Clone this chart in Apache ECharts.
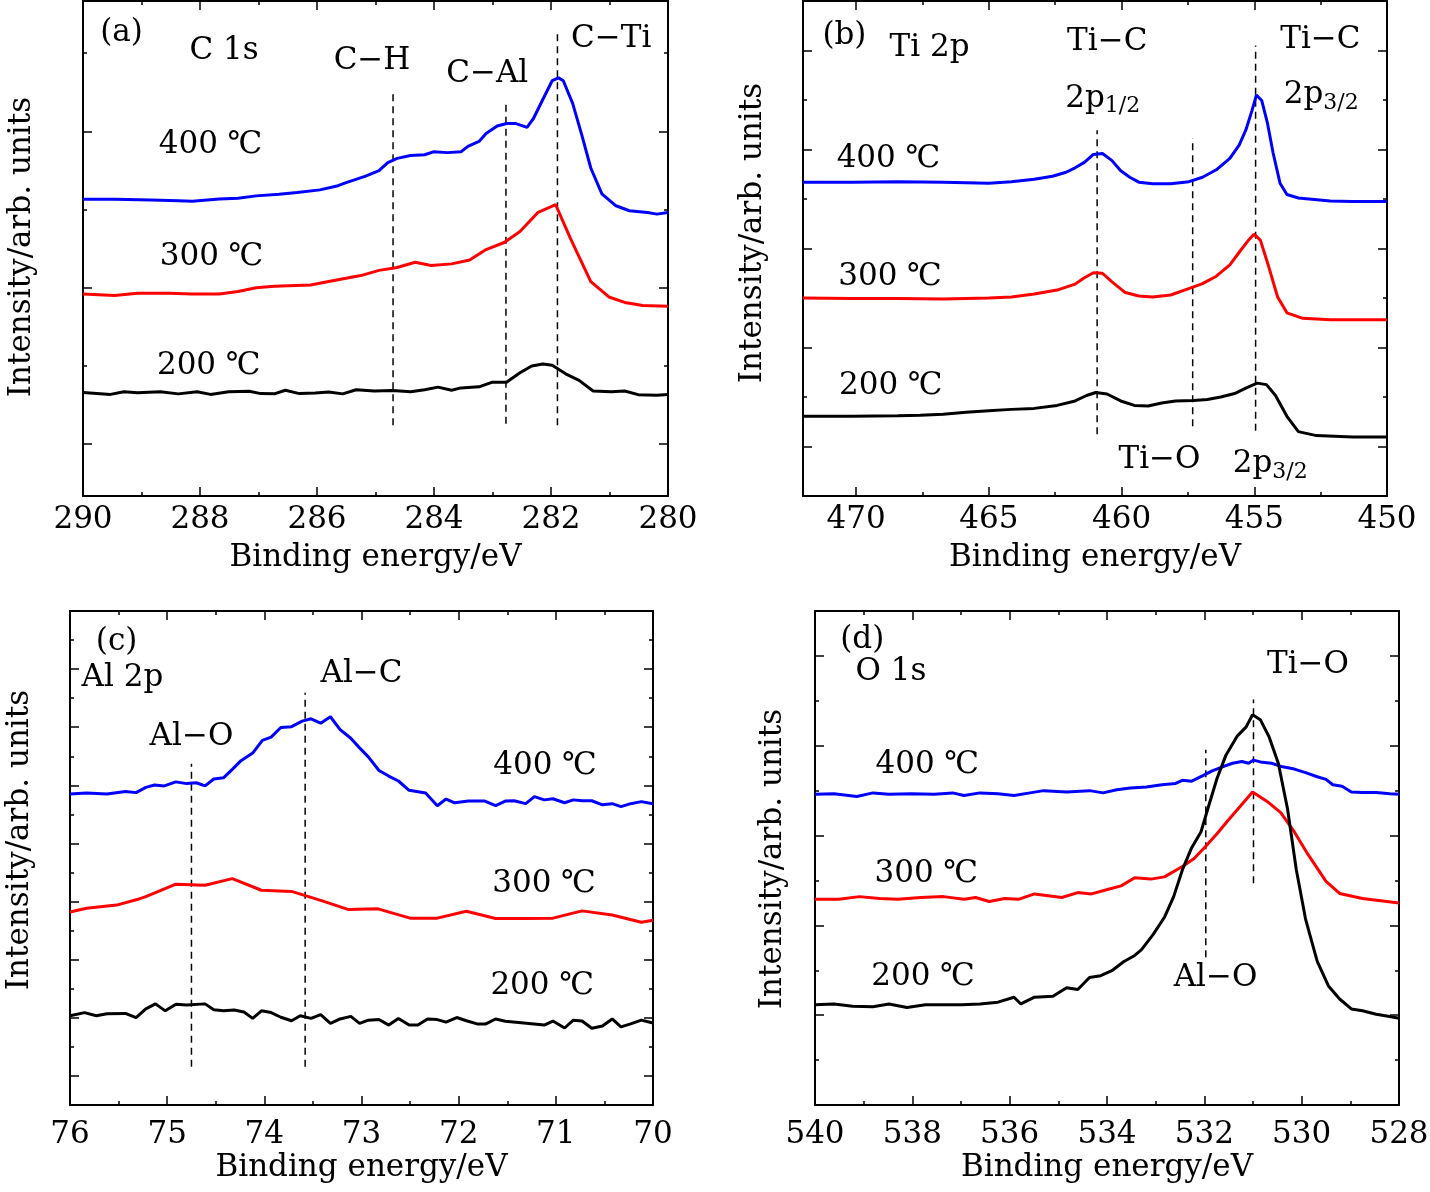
<!DOCTYPE html>
<html>
<head>
<meta charset="utf-8">
<title>XPS spectra</title>
<script src="https://cdn.jsdelivr.net/npm/echarts@6/dist/echarts.min.js"></script>
<style>
  html, body { margin: 0; padding: 0; background: #fff; }
  #chart { width: 1430px; height: 1192px; }
</style>
</head>
<body>
<div id="chart"></div>
<script>
// x = binding energy (eV), y = intensity (arb. units, own scale per panel)

// (a) C 1s
const a400 = [[290.00,11.39],[289.46,11.39],[288.83,11.36],[288.37,11.33],[288.13,11.31],[287.67,11.40],[287.35,11.43],[287.04,11.52],[286.65,11.58],[286.34,11.65],[285.95,11.75],[285.64,11.91],[285.49,12.04],[285.18,12.27],[284.94,12.49],[284.79,12.80],[284.63,12.96],[284.40,13.07],[284.16,13.10],[284.01,13.21],[283.77,13.18],[283.54,13.21],[283.42,13.42],[283.23,13.61],[283.11,13.91],[282.92,14.20],[282.76,14.30],[282.61,14.30],[282.41,14.15],[282.30,14.49],[282.14,15.22],[281.98,15.94],[281.87,16.05],[281.79,15.94],[281.63,15.07],[281.48,13.91],[281.32,12.59],[281.13,11.60],[280.89,11.14],[280.66,10.95],[280.35,10.88],[280.19,10.82],[280.00,10.88]];
const a300 = [[290.00,7.75],[289.46,7.70],[289.07,7.78],[288.52,7.78],[288.13,7.75],[287.67,7.75],[287.35,7.85],[287.04,7.99],[286.73,8.05],[286.11,8.10],[285.80,8.23],[285.25,8.46],[284.94,8.66],[284.63,8.77],[284.32,8.97],[284.05,8.85],[283.70,8.91],[283.39,9.06],[283.11,9.46],[282.80,9.73],[282.53,10.15],[282.22,10.89],[281.92,11.18],[281.67,9.90],[281.32,8.23],[281.01,7.64],[280.74,7.43],[280.43,7.31],[280.00,7.28]];
const a200 = [[290.00,3.97],[289.53,3.90],[289.30,4.00],[289.07,3.96],[288.68,4.00],[288.37,3.92],[288.05,4.00],[287.82,3.90],[287.51,4.00],[287.16,4.02],[286.96,3.93],[286.73,3.92],[286.54,4.06],[286.30,3.93],[286.03,3.95],[285.80,3.99],[285.56,3.92],[285.33,4.08],[285.02,4.03],[284.71,4.05],[284.40,4.00],[284.16,4.08],[283.93,4.18],[283.70,4.06],[283.54,4.15],[283.23,4.19],[283.00,4.37],[282.76,4.37],[282.53,4.73],[282.33,4.99],[282.14,5.07],[281.98,5.02],[281.75,4.69],[281.52,4.44],[281.28,4.03],[280.97,4.00],[280.74,4.03],[280.51,3.89],[280.19,3.87],[280.00,3.90]];
const aDash = [[284.70,2.72,15.54],[282.77,2.77,15.10],[281.89,2.72,17.76]];
const aText = [[289.34,17.76,'(a)'],[287.59,17.10,'C 1s'],[285.06,16.70,'C\u2212H'],[283.09,16.20,'C\u2212Al'],[280.97,17.54,'C\u2212Ti'],[287.82,13.46,'400 \u2103'],[287.80,9.17,'300 \u2103'],[287.85,4.99,'200 \u2103']];
const aXMajor = [280, 282, 284, 286, 288, 290];
const aXMinor = [281, 283, 285, 287, 289];
const aYMajor = [2, 8, 14];
const aYMinor = [5, 11, 17];

// (b) Ti 2p
const b400 = [[472.00,6.34],[470.15,6.34],[468.43,6.35],[466.72,6.34],[465.00,6.32],[464.15,6.35],[463.29,6.40],[462.60,6.46],[462.09,6.54],[461.75,6.63],[461.40,6.74],[461.06,6.90],[460.72,6.92],[460.37,6.78],[460.03,6.57],[459.69,6.44],[459.35,6.34],[458.83,6.31],[458.15,6.31],[457.46,6.35],[456.95,6.44],[456.43,6.59],[455.92,6.82],[455.57,7.09],[455.32,7.39],[455.09,7.78],[454.92,8.10],[454.72,7.99],[454.51,7.55],[454.29,6.93],[454.03,6.32],[453.77,6.09],[453.34,6.02],[452.14,5.96],[451.29,5.95],[450.00,5.95]];
const b300 = [[472.00,4.00],[470.15,3.99],[468.43,3.99],[466.72,3.98],[465.00,4.00],[464.15,4.02],[463.29,4.08],[462.43,4.16],[461.75,4.28],[461.40,4.41],[461.06,4.51],[460.72,4.50],[460.37,4.33],[459.86,4.11],[459.35,4.04],[458.83,4.02],[458.15,4.06],[457.63,4.16],[456.95,4.29],[456.43,4.44],[455.92,4.67],[455.49,4.98],[455.23,5.16],[455.01,5.29],[454.77,5.17],[454.46,4.64],[454.12,4.02],[453.77,3.70],[453.17,3.59],[452.14,3.56],[450.00,3.56]];
const b200 = [[472.00,1.61],[470.15,1.61],[468.43,1.62],[467.58,1.63],[466.72,1.65],[465.86,1.69],[465.00,1.72],[464.15,1.75],[463.29,1.77],[462.43,1.83],[461.75,1.92],[461.32,2.03],[460.97,2.09],[460.55,2.06],[460.03,1.92],[459.52,1.83],[459.00,1.82],[458.49,1.88],[457.97,1.92],[457.29,1.93],[456.77,1.95],[456.26,2.00],[455.74,2.07],[455.32,2.18],[454.89,2.28],[454.54,2.25],[454.20,2.03],[453.77,1.61],[453.34,1.30],[452.66,1.22],[451.29,1.19],[450.00,1.19]];
const bDash = [[460.92,1.25,7.39],[457.32,1.41,7.23],[454.95,1.32,9.10]];
const bText = [[470.44,9.29,'(b)'],[467.23,9.06,'Ti 2p'],[460.54,9.18,'Ti\u2212C'],[460.71,8.03,'{m|2p}{s|1/2}'],[452.51,9.22,'Ti\u2212C'],[452.48,8.10,'{m|2p}{s|3/2}'],[468.78,6.81,'400 \u2103'],[468.72,4.43,'300 \u2103'],[468.69,2.23,'200 \u2103'],[458.57,0.73,'Ti\u2212O'],[454.40,0.65,'{m|2p}{s|3/2}']];
const bXMajor = [450, 455, 460, 465, 470];
const bXMinor = [452.5, 457.5, 462.5, 467.5];
const bYMajor = [1, 3, 5, 7, 9];
const bYMinor = [2, 4, 6, 8];

// (c) Al 2p
const c400 = [[76.00,10.70],[75.83,10.74],[75.62,10.70],[75.43,10.79],[75.32,10.75],[75.22,10.93],[75.13,11.01],[75.03,10.98],[74.91,11.12],[74.80,11.06],[74.70,11.09],[74.61,10.98],[74.52,11.22],[74.42,11.26],[74.33,11.55],[74.24,11.85],[74.12,12.11],[74.02,12.55],[73.93,12.66],[73.83,12.99],[73.72,13.02],[73.61,13.21],[73.52,13.29],[73.42,13.14],[73.32,13.36],[73.22,12.92],[73.11,12.62],[73.02,12.29],[72.93,11.98],[72.82,11.51],[72.72,11.32],[72.62,11.15],[72.51,10.83],[72.34,10.74],[72.22,10.30],[72.13,10.53],[72.04,10.40],[71.90,10.46],[71.73,10.46],[71.62,10.30],[71.52,10.46],[71.43,10.47],[71.31,10.37],[71.22,10.61],[71.12,10.50],[71.03,10.54],[70.91,10.40],[70.82,10.50],[70.73,10.47],[70.63,10.47],[70.52,10.33],[70.42,10.37],[70.33,10.27],[70.23,10.37],[70.12,10.44],[70.00,10.37]];
const c300 = [[76.00,6.64],[75.83,6.77],[75.52,6.88],[75.31,7.07],[75.22,7.17],[74.91,7.60],[74.61,7.56],[74.33,7.79],[74.03,7.39],[73.72,7.35],[73.42,7.04],[73.14,6.73],[72.83,6.75],[72.50,6.43],[72.22,6.43],[71.92,6.67],[71.62,6.42],[71.33,6.42],[71.03,6.43],[70.73,6.68],[70.42,6.54],[70.12,6.29],[70.00,6.36]];
const c200 = [[76.00,3.07],[75.85,3.18],[75.73,3.07],[75.62,3.14],[75.43,3.15],[75.32,3.01],[75.22,3.31],[75.12,3.48],[75.02,3.24],[74.91,3.47],[74.80,3.44],[74.61,3.48],[74.52,3.28],[74.42,3.24],[74.31,3.27],[74.21,3.20],[74.12,2.98],[74.03,3.24],[73.93,3.18],[73.83,3.02],[73.72,2.90],[73.63,3.07],[73.52,2.98],[73.42,3.11],[73.32,2.81],[73.22,2.96],[73.11,3.05],[73.02,2.81],[72.93,2.92],[72.82,2.94],[72.72,2.75],[72.62,2.98],[72.51,2.75],[72.42,2.75],[72.32,2.96],[72.22,2.94],[72.13,2.85],[72.02,3.01],[71.92,2.90],[71.81,2.79],[71.72,2.79],[71.62,2.96],[71.52,2.88],[71.33,2.82],[71.12,2.75],[71.03,2.89],[70.91,2.65],[70.82,2.92],[70.73,2.89],[70.63,2.64],[70.52,2.72],[70.42,2.96],[70.33,2.69],[70.23,2.79],[70.12,2.92],[70.00,2.82]];
const cDash = [[74.75,1.32,11.74],[73.58,1.32,14.19]];
const cText = [[75.52,15.95,'(c)'],[75.46,14.69,'Al 2p'],[73.00,14.82,'Al\u2212C'],[74.75,12.66,'Al\u2212O'],[71.11,11.68,'400 \u2103'],[71.12,7.62,'300 \u2103'],[71.14,4.09,'200 \u2103']];
const cXMajor = [70, 71, 72, 73, 74, 75, 76];
const cXMinor = [70.5, 71.5, 72.5, 73.5, 74.5, 75.5];
const cYMajor = [1, 3, 5, 7, 9, 11, 13, 15];
const cYMinor = [2, 4, 6, 8, 10, 12, 14, 16];

// (d) O 1s
const d400 = [[540.00,6.92],[539.61,6.93],[539.14,6.87],[538.81,6.95],[538.48,6.92],[538.02,6.93],[537.55,6.92],[537.17,6.95],[536.94,6.89],[536.61,6.95],[536.24,6.93],[535.91,6.89],[535.58,6.95],[535.30,7.00],[534.83,6.97],[534.36,7.00],[534.08,6.95],[533.80,7.02],[533.52,7.06],[533.19,7.08],[532.87,7.13],[532.59,7.16],[532.45,7.23],[532.26,7.21],[532.02,7.34],[531.84,7.44],[531.60,7.54],[531.42,7.61],[531.23,7.65],[531.09,7.61],[530.99,7.68],[530.81,7.63],[530.62,7.61],[530.39,7.53],[530.15,7.48],[529.92,7.40],[529.68,7.31],[529.50,7.25],[529.36,7.13],[529.17,7.10],[528.98,6.97],[528.75,6.96],[528.47,6.96],[528.19,6.93],[528.00,6.92]];
const d300 = [[540.00,4.58],[539.51,4.58],[539.09,4.64],[538.67,4.60],[538.30,4.58],[537.83,4.62],[537.36,4.64],[536.94,4.58],[536.70,4.62],[536.42,4.53],[536.10,4.60],[535.82,4.58],[535.49,4.70],[534.93,4.62],[534.60,4.73],[534.32,4.70],[533.99,4.80],[533.71,4.88],[533.43,5.06],[533.10,5.03],[532.82,5.08],[532.45,5.31],[532.21,5.49],[531.98,5.75],[531.74,6.04],[531.51,6.34],[531.27,6.64],[531.01,6.97],[530.71,6.76],[530.43,6.51],[530.15,6.08],[529.87,5.58],[529.50,4.98],[529.22,4.71],[528.75,4.60],[528.00,4.50]];
const d200 = [[540.00,2.23],[539.61,2.25],[539.23,2.20],[538.81,2.19],[538.48,2.25],[538.11,2.17],[537.73,2.23],[537.36,2.23],[536.99,2.23],[536.61,2.25],[536.24,2.29],[535.91,2.40],[535.77,2.25],[535.49,2.40],[535.11,2.42],[534.83,2.61],[534.60,2.57],[534.36,2.84],[534.13,2.88],[533.90,2.99],[533.66,3.19],[533.43,3.33],[533.29,3.46],[533.05,3.80],[532.82,4.18],[532.63,4.64],[532.45,5.24],[532.26,5.73],[532.07,6.08],[531.93,6.59],[531.74,7.27],[531.56,7.78],[531.32,8.22],[531.14,8.42],[531.01,8.69],[530.85,8.58],[530.67,8.20],[530.48,7.61],[530.29,6.59],[530.11,5.24],[529.92,4.14],[529.68,3.20],[529.45,2.65],[529.22,2.36],[528.98,2.14],[528.75,2.10],[528.47,2.02],[528.19,1.97],[528.00,1.93]];
const dDash = [[531.97,3.29,7.91],[530.99,4.94,9.03]];
const dText = [[539.03,10.36,'(d)'],[538.44,9.64,'O 1s'],[529.87,9.79,'Ti\u2212O'],[537.69,7.57,'400 \u2103'],[537.71,5.15,'300 \u2103'],[537.78,2.86,'200 \u2103'],[531.77,2.82,'Al\u2212O']];
const dXMajor = [528, 530, 532, 534, 536, 538, 540];
const dXMinor = [529, 531, 533, 535, 537, 539];
const dYMajor = [2, 4, 6, 8, 10];
const dYMinor = [1, 3, 5, 7, 9];

const FONT = "'DejaVu Serif', 'DejaVu Sans', serif";
const FS = 31;

const panels = [
  { grid: {left: 83, top: 1, width: 585, height: 495}, x: [280, 290], y: [0, 19], lblMargin: 8, nameGap: 46,
    lines: [a400, a300, a200], dash: aDash, text: aText, xMaj: aXMajor, xMin: aXMinor, yMaj: aYMajor, yMin: aYMinor, yName: [22, 247] },
  { grid: {left: 803, top: 1, width: 584, height: 495}, x: [450, 472], y: [0, 10], lblMargin: 8, nameGap: 46,
    lines: [b400, b300, b200], dash: bDash, text: bText, xMaj: bXMajor, xMin: bXMinor, yMaj: bYMajor, yMin: bYMinor, yName: [753, 233] },
  { grid: {left: 70, top: 611, width: 583, height: 494}, x: [70, 76], y: [0, 17], lblMargin: 14, nameGap: 47,
    lines: [c400, c300, c200], dash: cDash, text: cText, xMaj: cXMajor, xMin: cXMinor, yMaj: cYMajor, yMin: cYMinor, yName: [20, 840] },
  { grid: {left: 815, top: 611, width: 584, height: 494}, x: [528, 540], y: [0, 11], lblMargin: 14, nameGap: 47,
    lines: [d400, d300, d200], dash: dDash, text: dText, xMaj: dXMajor, xMin: dXMinor, yMaj: dYMajor, yMin: dYMinor, yName: [773, 859] }
];
const colors = ['#0000ff', '#ff0000', '#000000'];

const black = {color: '#000', width: 2};
const tickStyle = {color: '#000', width: 1.5};

function xAxes(p, gi) {
  const base = {gridIndex: gi, type: 'value', min: p.x[0], max: p.x[1], inverse: true,
    splitLine: {show: false}, axisLabel: {show: false}};
  const mk = (pos, vals, len, line) => Object.assign({}, base, {
    position: pos,
    axisLine: {show: line, onZero: false, lineStyle: black},
    axisTick: {show: true, inside: true, length: len, customValues: vals, lineStyle: tickStyle}
  });
  const bottom = mk('bottom', p.xMaj, 9, true);
  bottom.axisLabel = {show: true, customValues: p.xMaj, margin: p.lblMargin, color: '#000', fontSize: FS, fontFamily: FONT};
  bottom.name = 'Binding energy/eV';
  bottom.nameLocation = 'middle';
  bottom.nameGap = p.nameGap;
  bottom.nameTextStyle = {color: '#000', fontSize: FS, fontFamily: FONT};
  return [bottom, mk('bottom', p.xMin, 4, false), mk('top', p.xMaj, 9, true), mk('top', p.xMin, 4, false)];
}

function yAxes(p, gi) {
  const base = {gridIndex: gi, type: 'value', min: p.y[0], max: p.y[1],
    splitLine: {show: false}, axisLabel: {show: false}};
  const mk = (pos, vals, len, line) => Object.assign({}, base, {
    position: pos,
    axisLine: {show: line, onZero: false, lineStyle: black},
    axisTick: {show: true, inside: true, length: len, customValues: vals, lineStyle: tickStyle}
  });
  return [mk('left', p.yMaj, 9, true), mk('left', p.yMin, 4, false), mk('right', p.yMaj, 9, true), mk('right', p.yMin, 4, false)];
}

const option = {
  animation: false,
  backgroundColor: '#fff',
  grid: panels.map(p => Object.assign({outerBoundsMode: 'none', containLabel: false}, p.grid)),
  xAxis: [],
  yAxis: [],
  series: [],
  graphic: panels.map(p => ({
    type: 'text', x: p.yName[0], y: p.yName[1], rotation: Math.PI / 2,
    style: {text: 'Intensity/arb. units', fill: '#000', font: FS + 'px ' + FONT, align: 'center', verticalAlign: 'middle'}
  }))
};

panels.forEach((p, gi) => {
  option.xAxis.push(...xAxes(p, gi));
  option.yAxis.push(...yAxes(p, gi));
  const ax = {xAxisIndex: 4 * gi, yAxisIndex: 4 * gi};
  p.dash.forEach(d => {
    option.series.push(Object.assign({
      type: 'line', data: [[d[0], d[1]], [d[0], d[2]]], symbol: 'none', silent: true, z: 2,
      lineStyle: {color: '#000', width: 1.5, type: [7, 5]}
    }, ax));
  });
  p.lines.forEach((data, k) => {
    option.series.push(Object.assign({
      type: 'line', data: data, symbol: 'none', showSymbol: false, silent: true, z: 3,
      lineStyle: {color: colors[k], width: 3}, itemStyle: {color: colors[k]}
    }, ax));
  });
  option.series.push(Object.assign({
    type: 'scatter', symbolSize: 0, silent: true, z: 5,
    itemStyle: {color: '#000', opacity: 1},
    data: p.text.map(t => ({value: [t[0], t[1]], label: {formatter: t[2]}})),
    label: {
      show: true, position: 'inside', color: '#000', opacity: 1, textBorderWidth: 0,
      fontSize: FS, fontFamily: FONT,
      rich: {
        m: {fontSize: FS, fontFamily: FONT, color: '#000'},
        s: {fontSize: 22, fontFamily: FONT, color: '#000', padding: [16, 0, 0, 0]}
      }
    }
  }, ax));
});

const chart = echarts.init(document.getElementById('chart'), null, {renderer: 'canvas'});
chart.setOption(option);
</script>
</body>
</html>
